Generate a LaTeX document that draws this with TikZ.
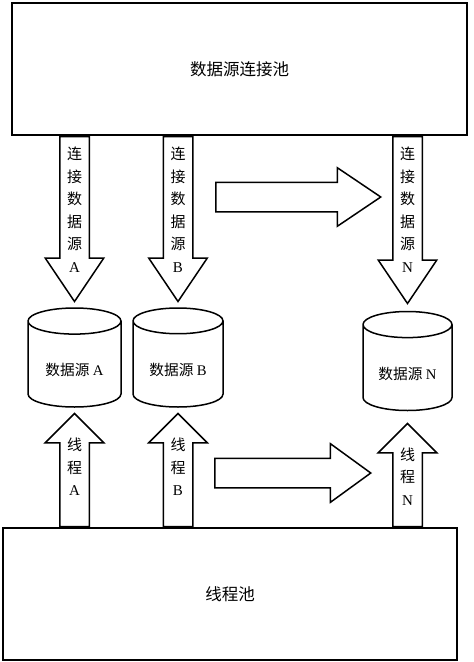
\documentclass[tikz,border=0pt]{standalone}
\usepackage{fontspec}
\setmainfont{Liberation Serif}
\newfontfamily\cjk{Noto Sans CJK SC}
\usetikzlibrary{shapes.geometric,shapes.arrows,calc}

\begin{document}
\begin{tikzpicture}[x=1pt,y=1pt]
	\tikzstyle{every node}+=[inner sep=0pt]
	\tikzstyle{poolbox}=[draw, line width=1.5pt, font=\cjk\fontsize{16.5}{20}\selectfont]
	\tikzstyle{dbcyl}=[cylinder, shape border rotate=90, draw, line width=1.5pt, aspect=0.45, minimum height=99, text height=23, text depth=0, font=\cjk\fontsize{14.7}{18}\selectfont]
	\tikzstyle{blockarrow}=[single arrow, draw, line width=1.5pt, inner sep=14, minimum width=57, single arrow head extend=14.5]
	\tikzstyle{arrowtext}=[align=center, font=\cjk\fontsize{15}{22.5}\selectfont]
	\useasboundingbox (0,0) rectangle (474,-662);
	\node [poolbox, minimum width=455, minimum height=132] (connpool) at (239.5,-69) {数据源连接池};
	\node [poolbox, minimum width=454, minimum height=132] (threadpool) at (230,-594) {线程池};
	\node [dbcyl, minimum width=93, anchor=shape center] (dsA) at (74.5,-357.5) {数据源 {\rmfamily A}};
	\node [dbcyl, minimum width=90, anchor=shape center] (dsB) at (178,-357.5) {数据源 {\rmfamily B}};
	\node [dbcyl, minimum width=89, anchor=shape center] (dsN) at (407.5,-361) {数据源 {\rmfamily N}};
	\node [blockarrow, shape border rotate=270, single arrow tip angle=68, minimum height=165, anchor=tail] (connA) at (connpool.south -| dsA) {};
	\node [blockarrow, shape border rotate=270, single arrow tip angle=68, minimum height=165, anchor=tail] (connB) at (connpool.south -| dsB) {};
	\node [blockarrow, shape border rotate=270, single arrow tip angle=68, minimum height=167, anchor=tail] (connN) at (connpool.south -| dsN) {};
	\node [arrowtext] (connAtext) at ($(connA.tail)+(0,-74)$) {连\\接\\数\\据\\源\\{\rmfamily A}};
	\node [arrowtext] (connBtext) at ($(connB.tail)+(0,-74)$) {连\\接\\数\\据\\源\\{\rmfamily B}};
	\node [arrowtext] (connNtext) at ($(connN.tail)+(0,-74)$) {连\\接\\数\\据\\源\\{\rmfamily N}};
	\node [blockarrow, shape border rotate=90, single arrow tip angle=90, minimum height=113, anchor=tail] (threadA) at (threadpool.north -| dsA) {};
	\node [blockarrow, shape border rotate=90, single arrow tip angle=90, minimum height=113, anchor=tail] (threadB) at (threadpool.north -| dsB) {};
	\node [blockarrow, shape border rotate=90, single arrow tip angle=90, minimum height=103, anchor=tail] (threadN) at (threadpool.north -| dsN) {};
	\node [arrowtext] (threadAtext) at ($(threadA.tail)+(0,60.5)$) {线\\程\\{\rmfamily A}};
	\node [arrowtext] (threadBtext) at ($(threadB.tail)+(0,60.5)$) {线\\程\\{\rmfamily B}};
	\node [arrowtext] (threadNtext) at ($(threadN.tail)+(0,51)$) {线\\程\\{\rmfamily N}};
	\node [blockarrow, single arrow tip angle=68, minimum height=165, anchor=tail] (moreconn) at (215,-197) {};
	\node [blockarrow, single arrow tip angle=72, minimum height=156, anchor=tail] (morethread) at (214,-473) {};
\end{tikzpicture}
\end{document}
